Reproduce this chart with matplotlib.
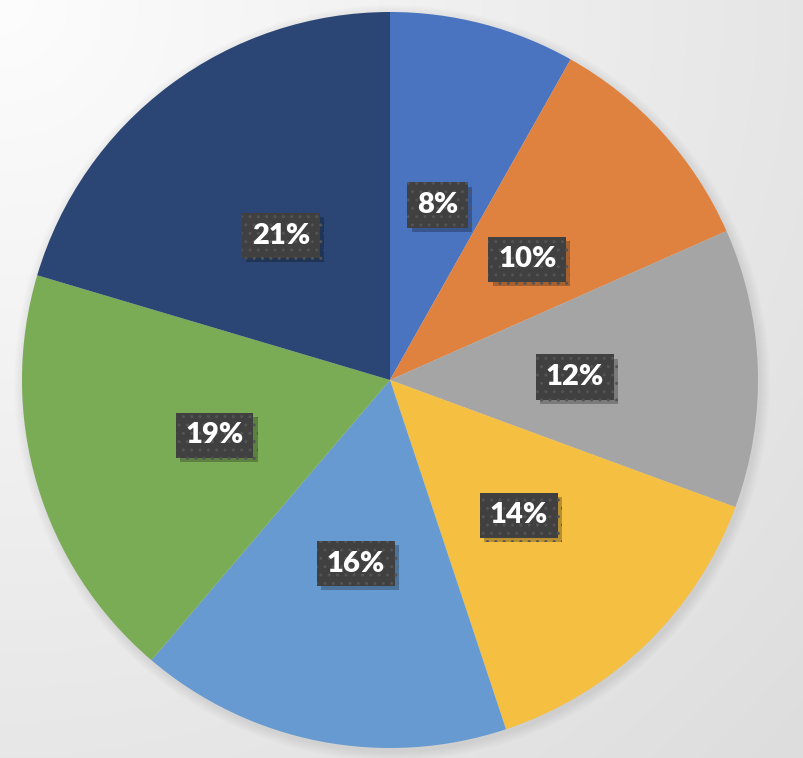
import numpy as np
import matplotlib.pyplot as plt
import matplotlib.patheffects as pe
from matplotlib.patches import Circle

# slice sizes, clockwise from 12 o'clock, and the labels printed on them
values = [40, 50, 60, 70, 80, 90, 100]
labels = ['8%', '10%', '12%', '14%', '16%', '19%', '21%']
colors = ['#4A73C0', '#E0823F', '#A5A5A5', '#F5BF42', '#669AD0', '#7AAB55', '#2B4674']

W, H = 804, 758
fig = plt.figure(figsize=(W / 100, H / 100), dpi=100)
ax = fig.add_axes([0, 0, 1, 1])

# soft grey background, lightest in the top-left corner
yy, xx = np.mgrid[0:H, 0:W]
d = np.clip(np.hypot(xx, yy) / 1100, 0, 1)
shade = (253 - 32 * d) / 255
ax.imshow(np.dstack([shade, shade, shade]), extent=(0, W, 0, H), zorder=0, aspect='auto')

cx, cy, r = 390, H - 380, 368

# faint shadow round the pie
for k in range(10, 0, -1):
    ax.add_patch(Circle((cx + 2, cy - 3), r + k, color='black', alpha=0.009, lw=0, zorder=1))

counter = iter(labels)
wedges, texts, autotexts = ax.pie(
    values, colors=colors, startangle=90, counterclock=False,
    center=(cx, cy), radius=r, autopct=lambda p: next(counter), pctdistance=0.5,
    wedgeprops=dict(linewidth=0), frame=True)
for w in wedges:
    w.set_zorder(2)

for t in autotexts:
    x, y = t.get_position()
    t.set_position((x + 1, y - 3))
    t.set_fontfamily('Lato')
    t.set_fontweight('heavy')
    t.set_fontsize(21)
    t.set_color('white')
    t.set_zorder(5)
    t.set_bbox(dict(boxstyle='square,pad=0.33', facecolor='#404040',
                    edgecolor='#545454', linewidth=0, hatch='..'))
    t.get_bbox_patch().set_path_effects(
        [pe.SimplePatchShadow(offset=(3, -3), shadow_rgbFace='black', alpha=0.25), pe.Normal()])

ax.set_xlim(0, W)
ax.set_ylim(0, H)
ax.set_aspect('auto')
ax.axis('off')

fig.savefig('out.png', dpi=100)
